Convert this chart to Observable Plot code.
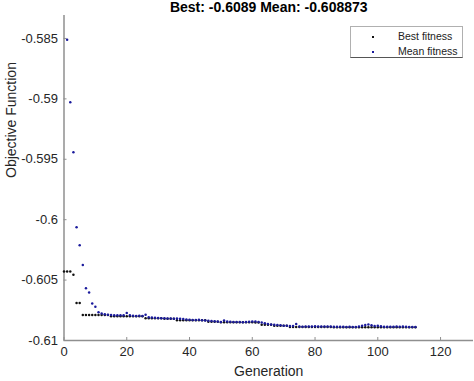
<!DOCTYPE html>
<html>
<head>
<meta charset="utf-8">
<script src="https://cdn.jsdelivr.net/npm/d3@7"></script>
<script src="https://cdn.jsdelivr.net/npm/@observablehq/plot@0.6"></script>
<style>
  html, body { margin: 0; padding: 0; background: #fff; }
  #wrap { position: relative; width: 474px; height: 381px; overflow: hidden; font-family: "Liberation Sans", Arial, sans-serif; }
  #legend { position: absolute; left: 350px; top: 26px; width: 113px; height: 32px; background: #fff;
            border: 1px solid #b0b0b0; border-bottom: 1px solid #555; box-sizing: border-box; }
  .row { position: absolute; left: 0; font-size: 10.5px; color: #222; white-space: nowrap; }
  .mk { position: absolute; width: 2px; height: 2px; left: 21px; }
  .lab { position: absolute; left: 47px; }
</style>
</head>
<body>
<div id="wrap"></div>
<script>
const titleText = "Best: -0.6089 Mean: -0.608873";
const xLabel = "Generation";
const yLabel = "Objective Function";
const seriesNames = ["Best fitness", "Mean fitness"];
const seriesColors = ["#111111", "#1a1a9c"];
const xTicks = [0, 20, 40, 60, 80, 100, 120];
const yTicks = [-0.61, -0.605, -0.6, -0.595, -0.59, -0.585];
const yTickLabels = ["-0.61", "-0.605", "-0.6", "-0.595", "-0.59", "-0.585"];

// Best fitness, generations 0..112
const bestGen = d3.range(0, 113);
const bestValues = [
  -0.60428, -0.60428, -0.60428, -0.60455, -0.6069, -0.6069,
  -0.60789, -0.60789, -0.60789, -0.60789, -0.60789, -0.60789, -0.60789, -0.60789, -0.60789,
  -0.60799, -0.60799, -0.60799, -0.60799, -0.60799, -0.60799, -0.60799, -0.60799, -0.60799, -0.60799, -0.60799,
  -0.60816, -0.60816, -0.60816, -0.60816, -0.60816, -0.60816,
  -0.6082, -0.6082, -0.6082, -0.6082,
  -0.60832, -0.60832, -0.60832, -0.60832, -0.60832, -0.60832, -0.60832, -0.60832, -0.60832, -0.60832,
  -0.60845, -0.60845, -0.60845, -0.60845,
  -0.60849, -0.60849, -0.60849, -0.60849, -0.60849, -0.60849, -0.60849, -0.60849, -0.60849, -0.60849, -0.60849,
  -0.6085, -0.6085,
  -0.6087, -0.6087, -0.6087, -0.6087,
  -0.60878, -0.60878, -0.60878, -0.60878, -0.60878,
  -0.60888, -0.60888, -0.60888, -0.60888, -0.60888, -0.60888, -0.60888, -0.60888, -0.60888, -0.60888, -0.60888, -0.60888, -0.60888, -0.60888,
  -0.6089, -0.6089, -0.6089, -0.6089, -0.6089, -0.6089, -0.6089, -0.6089, -0.6089, -0.6089,
  -0.6089, -0.6089, -0.6089, -0.6089, -0.6089, -0.6089, -0.6089, -0.6089, -0.6089, -0.6089,
  -0.6089, -0.6089, -0.6089, -0.6089, -0.6089, -0.6089, -0.6089
];

// Mean fitness, generations 1..112
const meanGen = d3.range(1, 113);
const meanValues = [
  -0.58511, -0.59027, -0.59441, -0.60063, -0.60211, -0.60375, -0.60567, -0.60602, -0.60693, -0.60721,
  -0.60766, -0.60776, -0.60783, -0.60786, -0.60788, -0.6079, -0.60791, -0.60792, -0.6079, -0.60773,
  -0.60792, -0.60796, -0.60798, -0.60795, -0.60798, -0.60787, -0.60808, -0.6081, -0.60812, -0.60813,
  -0.60815, -0.60816, -0.60817, -0.60818, -0.60819, -0.60818, -0.6082, -0.60822, -0.60826, -0.60828,
  -0.6083, -0.60831, -0.60829, -0.60832, -0.60834, -0.60836, -0.60838, -0.60841, -0.60843, -0.60846,
  -0.60835, -0.60842, -0.60844, -0.60846, -0.60847, -0.60847, -0.60848, -0.60846, -0.60845, -0.60843,
  -0.60842, -0.60846, -0.60852, -0.60858, -0.60863, -0.60867, -0.6087, -0.60872, -0.60874, -0.60877,
  -0.60878, -0.6088, -0.60881, -0.60864, -0.60885, -0.60886, -0.60885, -0.60884, -0.60884, -0.60883,
  -0.60884, -0.60885, -0.60884, -0.60885, -0.60884, -0.60886, -0.60886, -0.60887, -0.60887, -0.60888,
  -0.60887, -0.60888, -0.60888, -0.60885, -0.60878, -0.60872, -0.60868, -0.60874, -0.6088, -0.60877,
  -0.60882, -0.60886, -0.60887, -0.60887, -0.60886, -0.60885, -0.60887, -0.60884, -0.60887, -0.60888,
  -0.60888, -0.608873
];

const best = bestGen.map((g, i) => ({g, v: bestValues[i]}));
const mean = meanGen.map((g, i) => ({g, v: meanValues[i]}));

const axisColor = "#8f8f8f";
const textColor = "#262626";

const chart = Plot.plot({
  width: 474,
  height: 381,
  marginTop: 15,
  marginLeft: 63.5,
  marginRight: 1,
  marginBottom: 41,
  style: {fontFamily: "'Liberation Sans', Arial, sans-serif", background: "#fff", overflow: "visible"},
  x: {domain: [0, 130.5]},
  y: {domain: [-0.61, -0.5831]},
  marks: [
    Plot.ruleX([0], {stroke: axisColor, strokeWidth: 1.5}),
    Plot.ruleY([-0.61], {stroke: axisColor, strokeWidth: 1.5}),
    Plot.axisX({ticks: xTicks, tickSize: -3, tickPadding: 9, stroke: axisColor, fill: textColor, fontSize: 13, label: null}),
    Plot.axisY({ticks: yTicks, tickSize: -3, tickPadding: 9, stroke: axisColor, fill: textColor, fontSize: 13, label: null,
                tickFormat: d => yTickLabels[yTicks.indexOf(d)]}),
    Plot.dot(best, {x: "g", y: "v", r: 1.25, fill: seriesColors[0], stroke: null}),
    Plot.dot(mean, {x: "g", y: "v", r: 1.25, fill: seriesColors[1], stroke: null}),
    Plot.text([titleText], {frameAnchor: "top", dy: -13, lineAnchor: "top", fontSize: 14, fontWeight: "bold", fill: "#000", text: d => d}),
    Plot.text([xLabel], {frameAnchor: "bottom", dy: 26, lineAnchor: "top", fontSize: 14, fill: textColor, text: d => d}),
    Plot.text([yLabel], {frameAnchor: "left", dx: -52, rotate: -90, fontSize: 14, fill: textColor, text: d => d})
  ]
});

const wrap = document.getElementById("wrap");
wrap.appendChild(chart);

const legend = document.createElement("div");
legend.id = "legend";
seriesNames.forEach((name, i) => {
  const row = document.createElement("div");
  row.className = "row";
  row.style.top = (i === 0 ? 3 : 18) + "px";
  row.style.width = "110px";
  row.style.height = "13px";
  const mk = document.createElement("div");
  mk.className = "mk";
  mk.style.background = seriesColors[i];
  mk.style.top = "6px";
  const lab = document.createElement("div");
  lab.className = "lab";
  lab.textContent = name;
  row.appendChild(mk);
  row.appendChild(lab);
  legend.appendChild(row);
});
wrap.appendChild(legend);
</script>
</body>
</html>
